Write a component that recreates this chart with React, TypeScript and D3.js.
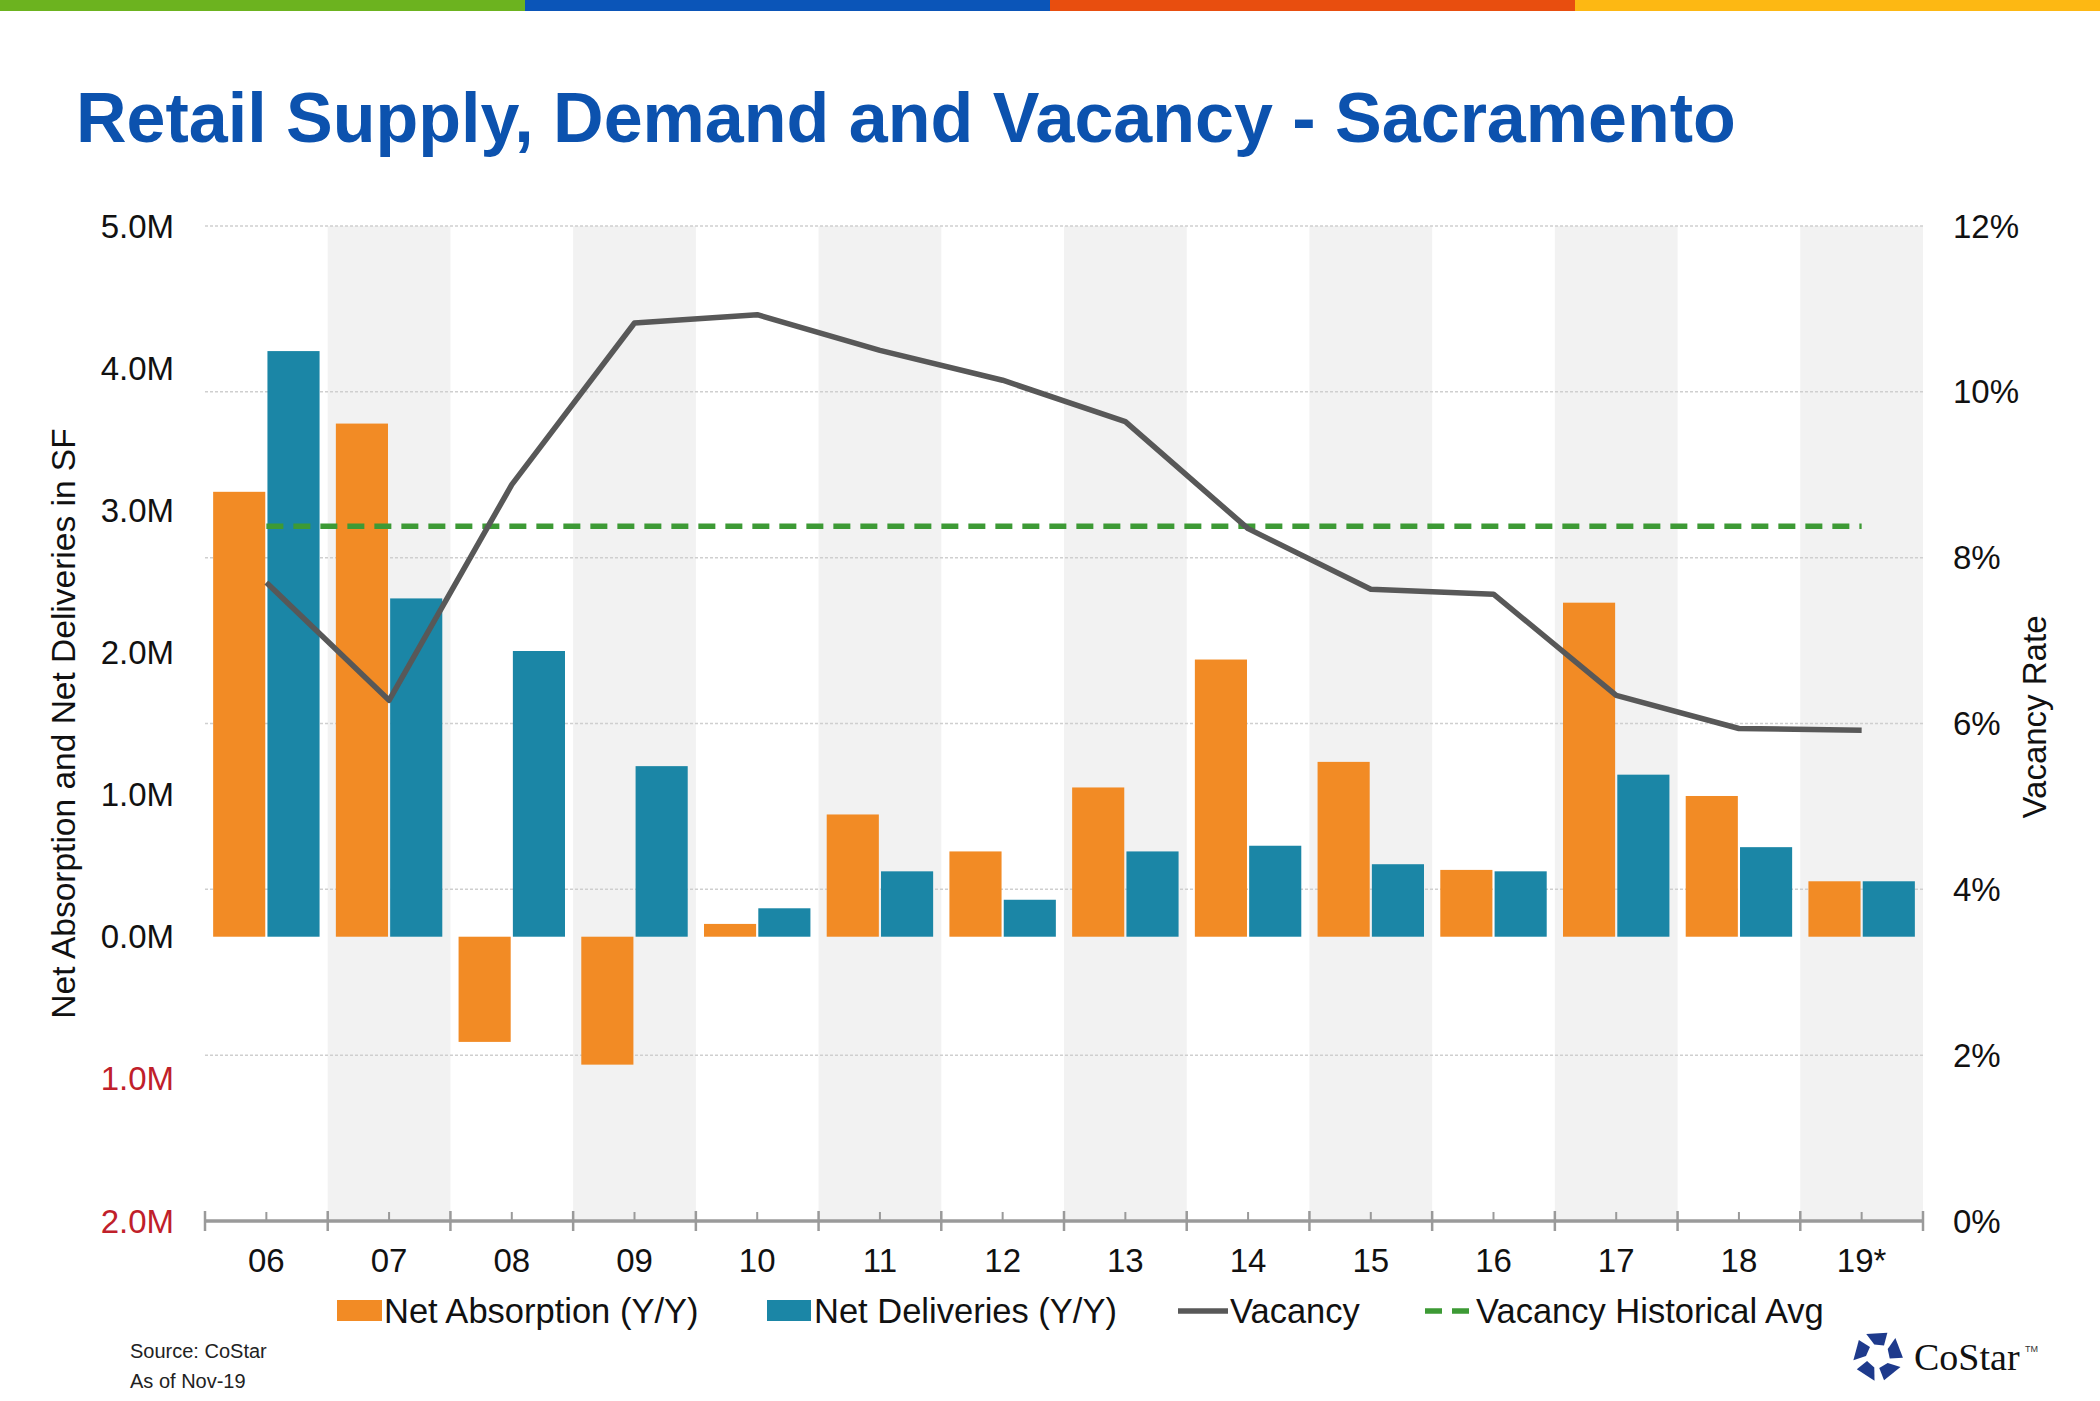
import React from "react";
import * as d3 from "d3";

// Calendar years on the category axis (19* = year to date)
const years = ["06", "07", "08", "09", "10", "11", "12", "13", "14", "15", "16", "17", "18", "19*"];
// Net absorption, millions of SF (year over year)
const netAbsorption = [3.13, 3.61, -0.74, -0.9, 0.09, 0.86, 0.6, 1.05, 1.95, 1.23, 0.47, 2.35, 0.99, 0.39];
// Net deliveries, millions of SF (year over year)
const netDeliveries = [4.12, 2.38, 2.01, 1.2, 0.2, 0.46, 0.26, 0.6, 0.64, 0.51, 0.46, 1.14, 0.63, 0.39];
// Vacancy rate, percent
const vacancy = [7.7, 6.28, 8.88, 10.83, 10.93, 10.5, 10.14, 9.64, 8.35, 7.62, 7.56, 6.34, 5.94, 5.92];
// Long-run average vacancy, percent
const vacancyHistoricalAvg = 8.38;

const leftTicks = [-2, -1, 0, 1, 2, 3, 4, 5];
const rightTicks = [0, 2, 4, 6, 8, 10, 12];
const seriesKeys = ["abs", "del"];

const W = 2100;
const H = 1401;
const FONT = "'Liberation Sans', Arial, Helvetica, sans-serif";

const COLORS = {
  abs: "#f28b25",
  del: "#1b86a6",
  vac: "#585858",
  avg: "#3d9a35",
  title: "#0c52ae",
  neg: "#c0202a",
};

const topStripe = ["#6cb31f", "#0b55b8", "#e84e0f", "#fdb813"];

function CoStarMark({ cx, cy }: { cx: number; cy: number }) {
  const rad = (deg: number) => (deg * Math.PI) / 180;
  const pt = (r: number, a: number) => [cx + r * Math.cos(rad(a)), cy + r * Math.sin(rad(a))];
  const pieces = d3.range(5).map((k) => {
    const a = -90 + 72 * k;
    const pts = [pt(25, a - 28), pt(25, a + 22), pt(12, a + 30), pt(12, a - 18)];
    return pts.map((p) => p.join(",")).join(" ");
  });
  return (
    <g>
      {pieces.map((p, i) => (
        <polygon key={i} points={p} fill="#1e3a8c" />
      ))}
    </g>
  );
}

export default function App() {
  const plotLeft = 205;
  const plotRight = 1923;
  const plotTop = 226;
  const plotBottom = 1221;

  const x = d3.scaleBand<string>().domain(years).range([plotLeft, plotRight]).padding(0);
  const xi = d3
    .scaleBand<string>()
    .domain(seriesKeys)
    .range([0, x.bandwidth()])
    .paddingInner(0.04)
    .paddingOuter(0.15);
  const yL = d3.scaleLinear().domain([-2, 5]).range([plotBottom, plotTop]);
  const yR = d3.scaleLinear().domain([0, 12]).range([plotBottom, plotTop]);

  const cx = (i: number) => (x(years[i]) as number) + x.bandwidth() / 2;

  const vacLine = d3
    .line<number>()
    .x((_, i) => cx(i))
    .y((d) => yR(d))(vacancy) as string;

  const avgLine = d3
    .line<number>()
    .x((_, i) => cx(i))
    .y((d) => yR(d))(years.map(() => vacancyHistoricalAvg)) as string;

  const bars = (vals: number[], key: string, color: string) =>
    vals.map((v, i) => {
      const x0 = (x(years[i]) as number) + (xi(key) as number);
      const y0 = yL(Math.max(0, v));
      const y1 = yL(Math.min(0, v));
      return <rect key={key + i} x={x0} y={y0} width={xi.bandwidth()} height={y1 - y0} fill={color} />;
    });

  const boundaries = [...years.map((y) => x(y) as number), plotRight];

  return (
    <div style={{ position: "absolute", left: 0, top: 0 }}>
      <svg width={W} height={H} viewBox={`0 0 ${W} ${H}`} style={{ display: "block", background: "#fff" }} fontFamily={FONT}>
        <rect x={0} y={0} width={W} height={H} fill="#ffffff" />
        {/* colour stripe across the top */}
        {topStripe.map((c, i) => (
          <rect key={c} x={(i * W) / 4} y={0} width={W / 4} height={11} fill={c} />
        ))}

        <text x={76} y={142} fontSize={70} fontWeight="bold" fill={COLORS.title}>
          Retail Supply, Demand and Vacancy - Sacramento
        </text>

        {/* alternating column shading */}
        {years.map((y, i) =>
          i % 2 === 1 ? (
            <rect key={"band" + y} x={x(y)} y={plotTop} width={x.bandwidth()} height={plotBottom - plotTop} fill="#f2f2f2" />
          ) : null
        )}

        {/* horizontal gridlines on the vacancy scale */}
        {rightTicks
          .filter((t) => t > 0)
          .map((t) => (
            <line
              key={"g" + t}
              x1={plotLeft}
              x2={plotRight}
              y1={yR(t)}
              y2={yR(t)}
              stroke="#cfcfcf"
              strokeWidth={1.5}
              strokeDasharray="3 2"
            />
          ))}

        {bars(netAbsorption, "abs", COLORS.abs)}
        {bars(netDeliveries, "del", COLORS.del)}

        <path d={avgLine} fill="none" stroke={COLORS.avg} strokeWidth={5.5} strokeDasharray="17 10" />
        <path d={vacLine} fill="none" stroke={COLORS.vac} strokeWidth={5.5} strokeLinejoin="round" />

        {/* category axis */}
        <line x1={plotLeft} x2={plotRight} y1={plotBottom} y2={plotBottom} stroke="#9a9a9a" strokeWidth={3.5} />
        {boundaries.map((bx, i) => (
          <line key={"mt" + i} x1={bx} x2={bx} y1={plotBottom - 10} y2={plotBottom + 10} stroke="#9a9a9a" strokeWidth={2.5} />
        ))}
        {years.map((y, i) => (
          <line key={"nt" + y} x1={cx(i)} x2={cx(i)} y1={plotBottom - 9} y2={plotBottom} stroke="#9a9a9a" strokeWidth={2} />
        ))}
        {years.map((y, i) => (
          <text key={"xl" + y} x={cx(i)} y={1272} fontSize={33} textAnchor="middle" fill="#111">
            {y}
          </text>
        ))}

        {/* left axis labels (negative values in red) */}
        {leftTicks.map((t) => (
          <text
            key={"l" + t}
            x={174}
            y={yL(t)}
            dy="0.35em"
            fontSize={33}
            textAnchor="end"
            fill={t < 0 ? COLORS.neg : "#111"}
          >
            {Math.abs(t).toFixed(1) + "M"}
          </text>
        ))}
        {/* right axis labels */}
        {rightTicks.map((t) => (
          <text key={"r" + t} x={1953} y={yR(t)} dy="0.35em" fontSize={33} fill="#111">
            {t + "%"}
          </text>
        ))}

        <text
          transform={`translate(75, ${yL(1.5)}) rotate(-90)`}
          fontSize={33.5}
          textAnchor="middle"
          fill="#111"
        >
          Net Absorption and Net Deliveries in SF
        </text>
        <text transform={`translate(2046, 717) rotate(-90)`} fontSize={33} textAnchor="middle" fill="#111">
          Vacancy Rate
        </text>

        {/* legend */}
        <g fontSize={34.5} fill="#111">
          <rect x={337} y={1300} width={45} height={21} fill={COLORS.abs} />
          <text x={384} y={1323}>Net Absorption (Y/Y)</text>
          <rect x={767} y={1300} width={44} height={21} fill={COLORS.del} />
          <text x={814} y={1323}>Net Deliveries (Y/Y)</text>
          <line x1={1178} x2={1228} y1={1311} y2={1311} stroke={COLORS.vac} strokeWidth={5.5} />
          <text x={1230} y={1323}>Vacancy</text>
          <line x1={1425} x2={1473} y1={1311} y2={1311} stroke={COLORS.avg} strokeWidth={5.5} strokeDasharray="17 10" />
          <text x={1476} y={1323}>Vacancy Historical Avg</text>
        </g>

        <text x={130} y={1358} fontSize={20} fill="#222">
          Source: CoStar
        </text>
        <text x={130} y={1388} fontSize={20} fill="#222">
          As of Nov-19
        </text>

        <CoStarMark cx={1878} cy={1356} />
        <text x={1914} y={1370} fontSize={38} fontFamily="'Liberation Serif', 'Times New Roman', serif" fill="#111">
          CoStar
        </text>
        <text x={2025} y={1352} fontSize={9} fill="#333">
          TM
        </text>
      </svg>
    </div>
  );
}
